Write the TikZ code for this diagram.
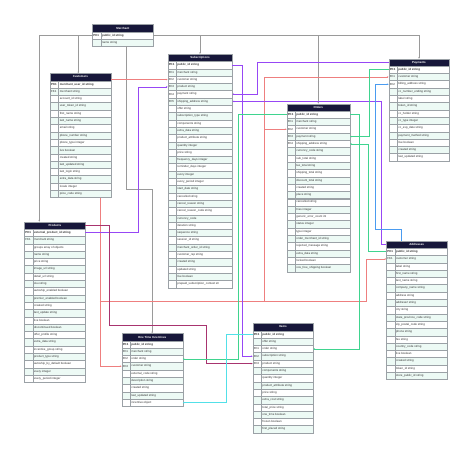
\documentclass[tikz,border=0pt]{standalone}
\usepackage{fontspec}
\setmainfont{Liberation Sans}
\usetikzlibrary{calc}
\usetikzlibrary{arrows.meta}

\definecolor{headnavy}{HTML}{17173A}
\definecolor{rowmint}{HTML}{EDFAF5}
\definecolor{tblgray}{HTML}{9BA1A6}
\definecolor{lnkgray}{HTML}{9A9A9A}
\definecolor{lnkred}{HTML}{EE7F7F}
\definecolor{lnkpurple}{HTML}{9747F5}
\definecolor{lnkplum}{HTML}{A8346F}
\definecolor{lnkgreen}{HTML}{3FD48F}
\definecolor{lnkcyan}{HTML}{52E0E8}
\definecolor{lnkblue}{HTML}{4A9BF0}

\tikzset{
  head/.style={draw=tblgray, fill=headnavy, text=white, inner sep=0pt,
    minimum height=14.6pt, font=\fontsize{5.8}{7}\selectfont\bfseries},
  cell/.style={draw=tblgray, inner sep=0pt, minimum height=14.6pt},
  txt/.style={anchor=west, inner sep=0pt, text=black!80,
    font=\fontsize{5.8}{7}\selectfont},
  sepline/.style={draw=tblgray, line width=0.5pt},
  fk/.style={line width=0.9pt, -{Stealth[length=3.2pt,width=3pt]}},
}

% table: id, x, y, width, title, key/field list
\newcommand{\ertable}[6]{%
  \begin{scope}[shift={(#2,#3)}]
    \node[head, minimum width=#4*0.6667pt] (#1) at (#4/2,11) {#5};
    \foreach [count=\i] \k/\t in {#6} {
      \pgfmathsetmacro{\yc}{22+(\i-0.5)*21.9}
      \ifodd\i\relax \def\rc{white}\else \def\rc{rowmint}\fi
      \ifnum\i=1\relax \def\fw{\bfseries}\else \def\fw{}\fi
      \node[cell, fill=\rc, minimum width=#4*0.6667pt] (#1-\i) at (#4/2,\yc) {};
      \draw[sepline] (25,\yc-10.95) -- (25,\yc+10.95);
      \node[txt] (#1-k\i) at (3,\yc) {\fw\k};
      \node[txt] (#1-t\i) at (29,\yc) {\fw\t};
    }
  \end{scope}}

\begin{document}
\begin{tikzpicture}[x=0.6667pt, y=-0.6667pt]
\fill[white] (0,-60) rectangle (1422,1311);
\useasboundingbox (0,-60) rectangle (1422,1311);

\ertable{mer}{277}{13}{183}{Merchant}{PK1/public\_id string, /name string}

\ertable{cust}{150}{160}{182}{Customers}{PK1/merchant\_user\_id string,
  FK1/merchant string, /account\_id string, /user\_token\_id string,
  /first\_name string, /last\_name string, /email string,
  /phone\_number string, /phone\_type integer, /live boolean,
  /created string, /last\_updated string, /last\_login string,
  /extra\_data string, /locale integer, /price\_code string}

\ertable{sub}{503}{102}{194}{Subscriptions}{PK1/public\_id string,
  FK1/merchant string, FK2/customer string, FK3/product string,
  FK4/payment string, FK5/shipping\_address string, /offer string,
  /subscription\_type string, /components string, /extra\_data string,
  /product\_attribute string, /quantity integer, /price string,
  /frequency\_days integer, /reminder\_days integer, /every integer,
  /every\_period integer, /start\_date string, /cancelled string,
  /cancel\_reason string, /cancel\_reason\_code string, /currency\_code,
  /iteration string, /sequence string, /session\_id string,
  /merchant\_order\_id string, /customer\_rep string, /created string,
  /updated string, /live boolean, /prepaid\_subscription\_context str}

\ertable{ord}{860}{251}{190}{Orders}{PK1/public\_id string,
  FK1/merchant string, FK2/customer string, FK3/payment string,
  FK4/shipping\_address string, /currency\_code string, /sub\_total string,
  /tax\_total string, /shipping\_total string, /discount\_total string,
  /created string, /place string, /cancelled string, /tries integer,
  /generic\_error\_count int, /status integer, /type integer,
  /order\_merchant\_id string, /rejected\_message string,
  /extra\_data string, /locked boolean, /oos\_free\_shipping boolean}

\ertable{pay}{1166}{116}{182}{Payments}{PK1/public\_id string,
  FK1/customer string, FK2/billing\_address string,
  /cc\_number\_ending string, /label string, /token\_id string,
  /cc\_holder string, /cc\_type integer, /cc\_exp\_date string,
  /payment\_method string, /live boolean, /created string,
  /last\_updated string}

\ertable{prod}{73}{605}{183}{Products}{PK1/external\_product\_id string,
  FK1/merchant string, /groups array of objects, /name string,
  /price string, /image\_url string, /detail\_url string, /sku string,
  /autoship\_enabled boolean, /premier\_enabled boolean, /created string,
  /last\_update string, /live boolean, /discontinued boolean,
  /offer\_profile string, /extra\_data string, /incentive\_group string,
  /product\_type string, /autoship\_by\_default boolean, /every integer,
  /every\_period integer}

\ertable{oti}{365}{940}{183}{One Time Incentives}{PK1/public\_id string,
  FK1/merchant string, FK2/order string, FK3/customer string,
  /external\_code string, /description string, /created string,
  /last\_updated string, /incentive object}

\ertable{item}{758}{910}{182}{Items}{PK1/public\_id string, /offer string,
  FK1/order string, FK2/subscription string, FK3/product string,
  /components string, /quantity integer, /product\_attribute string,
  /price string, /extra\_cost string, /total\_price string,
  /one\_time boolean, /frozen boolean, /first\_placed string}

\ertable{addr}{1159}{662}{182}{Addresses}{PK1/public\_id string,
  FK1/customer string, /label string, /first\_name string,
  /last\_name string, /company\_name string, /address string,
  /address2 string, /city string, /state\_province\_code string,
  /zip\_postal\_code string, /phone string, /fax string,
  /country\_code string, /live boolean, /created string,
  /token\_id string, /store\_public\_id string}

% merchant links
\draw[fk, lnkgray] (mer-1.west) -| ($(prod.north west)+(45,0)$);
\draw[fk, lnkgray] (mer-1.west) -| ($(cust.north west)+(85,0)$);
\draw[fk, lnkgray] (mer-1.east) -| (sub.north);
\draw[fk, lnkgray] (mer-1.east) -| (ord.north);
\draw[fk, lnkgray] (mer-1.east) -| (pay.north);
\draw[fk, lnkgray] ($(mer-2.south west)+(103,0)$) -- ++(0,430) -| (oti.north);

% customer links
\coordinate (cjoin) at ($(cust-16.south west)+(150,311)$);
\draw[fk, lnkred] (sub-3.west -| cust.east) -- (sub-3.west);
\draw[fk, lnkred] ($(cust-16.south west)+(150,0)$) |- (oti-4.west);
\draw[fk, lnkred] (cjoin) -| ($(addr-2.west)+(-59,0)$) -- (addr-2.west);
\draw[fk, lnkred] ($(cjoin)+(493,0)$) |- (pay-2.west);
\draw[fk, lnkred] ($(cjoin)+(493,0)$) |- (ord-3.west);

% product, subscription, payment, address links
\draw[fk, lnkpurple] (prod-1.east) -- ++(159,0) |- (sub-4.west);
\draw[fk, lnkplum] (prod.east) -- ++(72,0) -- ++(0,299)
  -| ($(item-5.west)+(-138,0)$) -- (item-5.west);
\draw[fk, lnkpurple] (sub-1.east) -- ++(30,0) |- (item-4.west);
\draw[fk, lnkpurple] (pay.west) -| ($(sub-5.east)+(75,0)$) -- (sub-5.east);
\draw[fk, lnkpurple] (addr.west) -- ++(-14,0) |- (sub-6.east);

% order links
\draw[fk, lnkgreen] (pay-1.west) -- ++(-59,0) |- (ord-4.east);
\draw[fk, lnkgreen] (addr-1.west) -- ++(-55,0) |- (ord-5.east);
\draw[fk, lnkgreen] (ord-1.west) -- ++(-145,0) |- (oti-3.east);
\draw[fk, lnkgreen] (ord-1.east) -- ++(28,0) |- (item-3.east);

\draw[fk, lnkcyan] (item-1.west) -- ++(-78,0) |- (oti-9.east);
\draw[fk, lnkblue] ($(addr.north west)+(46,0)$) -- ++(0,-35)
  -| ($(pay-3.west)+(-41,0)$) -- (pay-3.west);
\end{tikzpicture}
\end{document}
